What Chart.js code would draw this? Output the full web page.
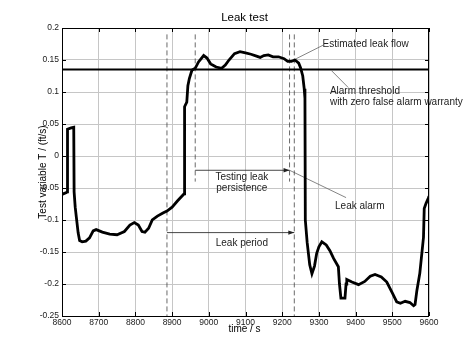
<!DOCTYPE html>
<html><head><meta charset="utf-8">
<script src="https://cdn.jsdelivr.net/npm/chart.js@4/dist/chart.umd.min.js"></script>
<style>html,body{margin:0;padding:0;background:#fff}</style>
</head><body>
<canvas id="c" width="474" height="355"></canvas>
<script>
// ---- data ----
const timeS = [8600,8612,8614,8615,8625,8632,8633,8636,8639,8644,8648,8655,8665,8675,8685,8693,8710,8730,8750,8770,8785,8797,8808,8818,8826,8836,8846,8860,8875,8886,8900,8915,8933,8934,8940,8943,8947,8954,8963,8972,8986,8995,9005,9020,9035,9045,9055,9070,9085,9100,9115,9130,9140,9150,9162,9175,9190,9205,9215,9225,9235,9245,9250,9256,9260,9262,9263,9268,9275,9281,9288,9294,9300,9308,9320,9330,9340,9353,9356,9360,9371,9374,9376,9390,9408,9425,9440,9453,9470,9485,9500,9512,9522,9535,9548,9558,9562,9567,9575,9585,9587,9592,9598,9600];
const testVar = [-0.060,-0.057,-0.056,0.042,0.044,0.045,-0.056,-0.080,-0.095,-0.120,-0.132,-0.134,-0.133,-0.128,-0.117,-0.115,-0.119,-0.122,-0.123,-0.118,-0.108,-0.104,-0.108,-0.118,-0.119,-0.113,-0.100,-0.094,-0.089,-0.086,-0.080,-0.070,-0.059,0.077,0.084,0.110,0.121,0.134,0.137,0.147,0.157,0.153,0.144,0.139,0.137,0.142,0.150,0.160,0.163,0.161,0.159,0.156,0.154,0.157,0.158,0.155,0.155,0.152,0.148,0.148,0.150,0.145,0.138,0.125,0.105,0.090,-0.100,-0.135,-0.170,-0.184,-0.172,-0.152,-0.142,-0.134,-0.139,-0.148,-0.160,-0.173,-0.200,-0.222,-0.222,-0.200,-0.193,-0.197,-0.201,-0.196,-0.188,-0.185,-0.189,-0.197,-0.214,-0.228,-0.230,-0.227,-0.229,-0.234,-0.232,-0.210,-0.183,-0.127,-0.082,-0.074,-0.066,-0.063];
const alarmThreshold = 0.135;
const eventTimes = [8886, 8963, 9220, 9233];
const eventTop = 0.19;
const eventBottom = [-0.25, -0.04, -0.04, -0.25];
const persistenceArrow = {from: 8963, to: 9220, y: -0.0223};
const periodArrow = {from: 8886, to: 9233, y: -0.1197};
const pointerLines = [
  [{x: 9238, y: 0.152}, {x: 9311, y: 0.173}],
  [{x: 9335, y: 0.133}, {x: 9380, y: 0.107}],
  [{x: 9220, y: -0.0223}, {x: 9374, y: -0.065}]
];
const annotationLabels = [
  {text: "Estimated leak flow", x: 9310, y: 0.174, align: "left"},
  {text: "Alarm threshold", x: 9330, y: 0.1016, align: "left"},
  {text: "with zero false alarm warranty", x: 9330, y: 0.0834, align: "left"},
  {text: "Testing leak", x: 9090, y: -0.0328, align: "center"},
  {text: "persistence", x: 9090, y: -0.0510, align: "center"},
  {text: "Leak alarm", x: 9344, y: -0.0786, align: "left"},
  {text: "Leak period", x: 9090, y: -0.1360, align: "center"}
];
const xRange = {min: 8600, max: 9600, step: 100};
const yRange = {min: -0.25, max: 0.2, step: 0.05};
const titleText = "Leak test";
const xLabel = "time / s";
const yLabel = "Test variable T / (ft/s)";

const FONT = "'Liberation Sans', Arial, Helvetica, sans-serif";

const datasets = [
  {data: timeS.map((t, i) => ({x: t, y: testVar[i]})), borderColor: '#000', borderWidth: 2.8, tension: 0},
  {data: [{x: xRange.min, y: alarmThreshold}, {x: xRange.max, y: alarmThreshold}], borderColor: '#000', borderWidth: 2},
];
eventTimes.forEach((t, i) => datasets.push({
  data: [{x: t, y: eventTop}, {x: t, y: eventBottom[i]}], borderColor: '#444', borderWidth: 0.8, borderDash: [5, 3]
}));
[persistenceArrow, periodArrow].forEach(a => datasets.push({
  data: [{x: a.from, y: a.y}, {x: a.to, y: a.y}], borderColor: '#333', borderWidth: 0.9
}));
pointerLines.forEach(p => datasets.push({data: p, borderColor: '#666', borderWidth: 0.8}));
datasets.forEach(d => { d.showLine = true; d.pointRadius = 0; d.fill = false; });

const decor = {
  id: 'decor',
  afterDraw(chart) {
    const {ctx, chartArea: a, scales: {x, y}} = chart;
    ctx.save();
    ctx.strokeStyle = '#000'; ctx.lineWidth = 1; ctx.setLineDash([]);
    ctx.strokeRect(a.left + 0.5, a.top + 0.5, a.right - a.left - 1, a.bottom - a.top);
    ctx.beginPath();
    for (let v = xRange.min; v <= xRange.max + 1e-6; v += xRange.step) {
      const px = Math.round(x.getPixelForValue(v)) + 0.5;
      ctx.moveTo(px, a.bottom); ctx.lineTo(px, a.bottom - 4);
      ctx.moveTo(px, a.top); ctx.lineTo(px, a.top + 4);
    }
    for (let v = yRange.min; v <= yRange.max + 1e-6; v += yRange.step) {
      const py = Math.round(y.getPixelForValue(v)) + 0.5;
      ctx.moveTo(a.left, py); ctx.lineTo(a.left + 4, py);
      ctx.moveTo(a.right, py); ctx.lineTo(a.right - 4, py);
    }
    ctx.stroke();
    ctx.fillStyle = '#222';
    [persistenceArrow, periodArrow].forEach(ar => {
      const px = x.getPixelForValue(ar.to), py = y.getPixelForValue(ar.y);
      ctx.beginPath(); ctx.moveTo(px, py); ctx.lineTo(px - 6, py - 2.2); ctx.lineTo(px - 6, py + 2.2); ctx.closePath(); ctx.fill();
    });
    ctx.fillStyle = '#222'; ctx.font = '10px ' + FONT; ctx.textBaseline = 'middle';
    annotationLabels.forEach(l => {
      ctx.textAlign = l.align;
      ctx.fillText(l.text, x.getPixelForValue(l.x), y.getPixelForValue(l.y));
    });
    const cx = (a.left + a.right) / 2;
    ctx.fillStyle = '#000'; ctx.textAlign = 'center';
    ctx.font = '11.5px ' + FONT;
    ctx.fillText(titleText, cx - 1, 18);
    ctx.font = '10px ' + FONT;
    ctx.fillText(xLabel, cx - 1, 329);
    ctx.translate(43.5, (a.top + a.bottom) / 2);
    ctx.rotate(-Math.PI / 2);
    ctx.fillText(yLabel, 0, 0);
    ctx.restore();
  }
};

const gridOpts = {display: true, drawTicks: false, color: '#c6c6c6', lineWidth: 1, drawOnChartArea: true};

new Chart(document.getElementById('c'), {
  type: 'scatter',
  data: {datasets},
  options: {
    responsive: false, animation: false, devicePixelRatio: 1,
    layout: {padding: {left: 0, right: 45, top: 28, bottom: 0}},
    plugins: {legend: {display: false}, tooltip: {enabled: false}, title: {display: false}},
    scales: {
      x: {
        type: 'linear', min: xRange.min, max: xRange.max,
        afterFit: s => { s.height = 39; },
        ticks: {stepSize: xRange.step, color: '#1a1a1a', font: {size: 8.5, family: FONT}, padding: 2, maxRotation: 0,
          callback: v => String(Math.round(v))},
        grid: gridOpts,
        border: {display: false}
      },
      y: {
        min: yRange.min, max: yRange.max,
        afterFit: s => { s.width = 62; },
        ticks: {stepSize: yRange.step, color: '#1a1a1a', font: {size: 8.5, family: FONT}, padding: 3,
          callback: v => String(Math.round(v * 100) / 100)},
        grid: gridOpts,
        border: {display: false}
      }
    }
  },
  plugins: [decor]
});
</script>
</body></html>
